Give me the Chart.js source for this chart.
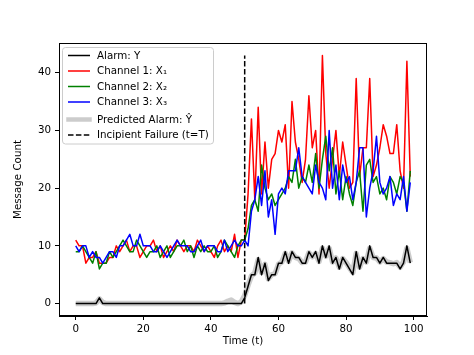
<!DOCTYPE html>
<html><head><meta charset="utf-8">
<script src="https://cdn.jsdelivr.net/npm/chart.js@4/dist/chart.umd.min.js"></script>
<style>html,body{margin:0;padding:0;background:#fff;}canvas{display:block;}</style>
</head><body>
<canvas id="c" width="474" height="355"></canvas>
<script>
const timeSteps = [0,1,2,3,4,5,6,7,8,9,10,11,12,13,14,15,16,17,18,19,20,21,22,23,24,25,26,27,28,29,30,31,32,33,34,35,36,37,38,39,40,41,42,43,44,45,46,47,48,49,50,51,52,53,54,55,56,57,58,59,60,61,62,63,64,65,66,67,68,69,70,71,72,73,74,75,76,77,78,79,80,81,82,83,84,85,86,87,88,89,90,91,92,93,94,95,96,97,98,99];
const alarmY = [0,0,0,0,0,0,0,1,0,0, 0,0,0,0,0,0,0,0,0,0, 0,0,0,0,0,0,0,0,0,0, 0,0,0,0,0,0,0,0,0,0, 0,0,0,0,0,0,0,0,0,0,
  1,3,5,5,8,5,7,4,5,5, 7,7,9,7,9,8,8,7,7,9, 8,9,7,10,8,10,7,8,6,8, 7,6,5,9,6,8,7,10,8,8, 7,8,7,7,7,7,6,7,10,7];
const channel1 = [11,10,10,7,8,8,9,7,7,7, 8,8,10,9,10,11,9,10,10,8, 9,10,10,11,9,10,8,9,10,9, 11,10,9,10,10,9,11,10,9,10, 9,8,10,11,9,10,9,12,8,11,
  11,19,32,18,34,19,28,20,25,26, 30,28,31,20,35,28,25,21,25,36, 27,30,19,43,26,20,25,30,22,28, 24,20,21,39,22,27,27,39,22,24, 27,31,29,26,26,31,23,20,42,22];
const channel2 = [9,9,10,9,8,7,9,6,7,7, 9,8,9,10,11,10,9,9,11,10, 9,8,9,9,10,8,9,10,8,9, 10,10,11,9,10,8,10,9,10,9, 9,10,8,9,11,10,9,8,10,11,
  11,13,17,18,16,24,20,18,19,17, 18,19,20,22,21,25,20,22,21,24, 21,26,20,25,29,23,27,19,23,18, 22,19,17,21,23,16,24,25,21,22, 19,20,18,22,21,19,22,21,16,23];
const channel3 = [10,9,10,10,8,9,8,8,7,8, 9,9,8,10,10,11,12,10,10,12, 10,10,10,9,9,10,9,8,9,10, 11,10,10,10,9,9,10,11,9,10, 10,10,9,9,11,9,10,11,10,10,
  11,10,16,18,22,17,23,15,18,12, 19,20,19,23,23,23,27,22,21,20, 19,24,21,20,18,30,20,24,18,24, 21,22,18,21,27,27,15,20,23,29, 21,19,20,22,17,19,18,22,16,21];
const predictedAlarm = [0,0,0,0,0,0,0.1,0.8,0.2,0, 0,0,0,0,0,0,0,0,0,0, 0,0,0,0,0,0,0,0,0,0, 0,0,0,0,0,0,0,0,0,0, 0,0,0,0,0.1,0.4,0.6,0.2,0,0.3,
  1.4,3.2,4.8,5.3,7.6,5.4,6.8,4.3,5.0,5.2, 6.8,7.2,8.7,7.3,8.8,8.0,7.8,7.1,7.2,8.8, 8.1,8.7,7.3,9.6,8.2,9.6,7.2,7.9,6.3,7.8, 7.1,6.2,5.4,8.7,6.3,7.8,7.2,9.6,8.0,7.9, 7.2,7.8,7.2,7.1,6.9,7.1,6.3,7.2,9.6,7.1];
const failureTime = 50;
const failureLineEnds = [0, 43];
const xTicks = [0,20,40,60,80,100];
const yTicks = [0,10,20,30,40];
const seriesLabels = ['Alarm: Y','Channel 1: X\u2081','Channel 2: X\u2082','Channel 3: X\u2083','Predicted Alarm: \u0176','Incipient Failure (t=T)'];

const pts = arr => arr.map((v,i)=>({x:timeSteps[i], y:v}));
const FONT = 'DejaVu Sans';
const FS = 10.3;
Chart.defaults.font.family = FONT;
Chart.defaults.font.size = FS;
Chart.defaults.color = '#000';

const styles = [
  {color:'#000000', width:1.5, dash:[]},
  {color:'#ff0000', width:1.5, dash:[]},
  {color:'#008000', width:1.5, dash:[]},
  {color:'#0000ff', width:1.5, dash:[]},
  {color:'#cccccc', width:5.5, dash:[]},
  {color:'#000000', width:1.5, dash:[5.5,2.4]}
];

function ds(label, data, st, order){
  return {label, data, borderColor:st.color, borderWidth:st.width, borderDash:st.dash,
    pointRadius:0, pointHoverRadius:0, tension:0, fill:false, order, borderJoinStyle:'round'};
}

const framePlugin = {
  id:'frameLegend',
  afterDraw(chart){
    const ctx = chart.ctx, a = chart.chartArea;
    ctx.save();
    ctx.strokeStyle = '#000'; ctx.lineWidth = 1;
    ctx.strokeRect(Math.round(a.left)+0.5, Math.round(a.top)+0.5, Math.round(a.right-a.left)-1, Math.round(a.bottom-a.top)-1);
    const lx=62.5, ly=47.5, lw=151, lh=96.5, r=3;
    ctx.beginPath();
    ctx.moveTo(lx+r,ly); ctx.lineTo(lx+lw-r,ly); ctx.arcTo(lx+lw,ly,lx+lw,ly+r,r);
    ctx.lineTo(lx+lw,ly+lh-r); ctx.arcTo(lx+lw,ly+lh,lx+lw-r,ly+lh,r);
    ctx.lineTo(lx+r,ly+lh); ctx.arcTo(lx,ly+lh,lx,ly+lh-r,r);
    ctx.lineTo(lx,ly+r); ctx.arcTo(lx,ly,lx+r,ly,r); ctx.closePath();
    ctx.fillStyle='rgba(255,255,255,0.8)'; ctx.fill();
    ctx.strokeStyle='#cccccc'; ctx.lineWidth=1; ctx.stroke();
    const rows = [55.5, 71, 86.5, 102, 119.5, 135];
    ctx.font = FS + 'px "'+FONT+'"'; ctx.textBaseline='middle'; ctx.textAlign='left';
    rows.forEach((y,i)=>{
      const st = styles[i];
      ctx.beginPath();
      ctx.strokeStyle = st.color; ctx.lineWidth = i===4 ? 4.5 : st.width; ctx.setLineDash(st.dash);
      ctx.lineCap = i===4 ? 'square' : 'butt';
      const x0 = i===4 ? 68.5 : 68, x1 = i===4 ? 89.5 : 90;
      ctx.moveTo(x0,y); ctx.lineTo(x1,y); ctx.stroke();
      ctx.setLineDash([]);
      ctx.fillStyle='#000';
      ctx.fillText(seriesLabels[i], 97, y+0.5);
    });
    ctx.restore();
  }
};

new Chart(document.getElementById('c'), {
  type:'line',
  data:{datasets:[
    ds(seriesLabels[0], pts(alarmY), styles[0], 4),
    ds(seriesLabels[1], pts(channel1), styles[1], 3),
    ds(seriesLabels[2], pts(channel2), styles[2], 2),
    ds(seriesLabels[3], pts(channel3), styles[3], 1),
    ds(seriesLabels[4], pts(predictedAlarm), styles[4], 5),
    ds(seriesLabels[5], failureLineEnds.map(v=>({x:failureTime, y:v})), styles[5], 0)
  ]},
  options:{
    responsive:false, animation:false, devicePixelRatio:1,
    layout:{padding:{top:43, right:47, left:0, bottom:0}},
    plugins:{legend:{display:false}, tooltip:{enabled:false}},
    scales:{
      x:{type:'linear', min:-4.95, max:103.95,
        afterBuildTicks:s=>{s.ticks = xTicks.map(v=>({value:v}));},
        afterFit:s=>{s.height = 39;},
        ticks:{color:'#000', padding:3, maxRotation:0, autoSkip:false, font:{family:FONT,size:FS}},
        grid:{drawOnChartArea:false, drawTicks:true, tickLength:4, color:'#000', lineWidth:1},
        border:{display:true, color:'#000', width:1},
        title:{display:true, text:'Time (t)', color:'#000', font:{family:FONT,size:FS}, padding:{top:0,bottom:7}}
      },
      y:{type:'linear', min:-2.15, max:45.15,
        afterBuildTicks:s=>{s.ticks = yTicks.map(v=>({value:v}));},
        afterFit:s=>{s.width = 59;},
        ticks:{color:'#000', padding:4, autoSkip:false, font:{family:FONT,size:FS}},
        grid:{drawOnChartArea:false, drawTicks:true, tickLength:4, color:'#000', lineWidth:1},
        border:{display:true, color:'#000', width:1},
        title:{display:true, text:'Message Count', color:'#000', font:{family:FONT,size:FS}, padding:{top:12,bottom:0}}
      }
    }
  },
  plugins:[framePlugin]
});
</script>
</body></html>
